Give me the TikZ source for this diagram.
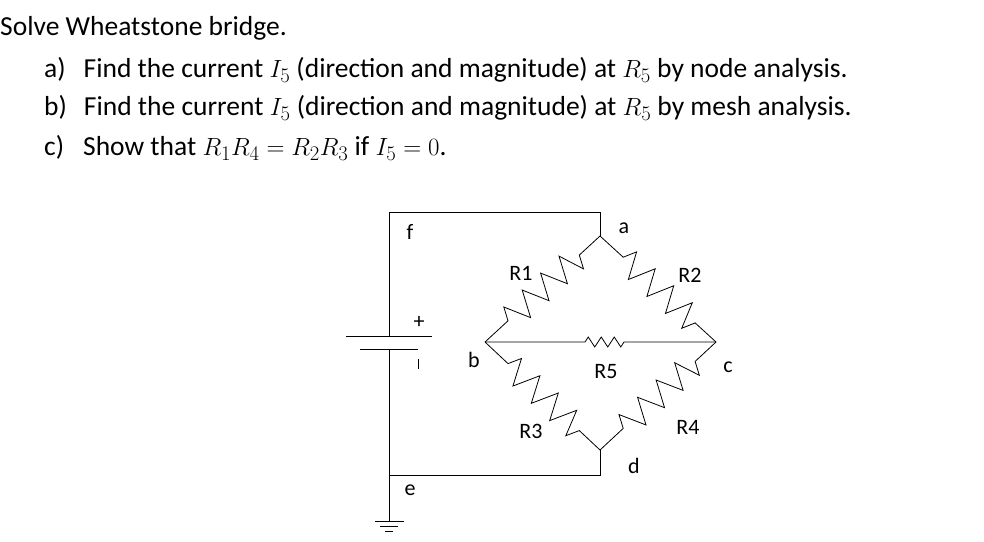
\documentclass[tikz,border=0pt]{standalone}
\usepackage{fontspec}
\setmainfont{Carlito}
\usetikzlibrary{calc,decorations.pathmorphing}
\newcommand\zzres[2]{\draw[res] (#1) -- ($(#1)!0.20!(#2)$)
 -- ($($(#1)!0.24!(#2)$)!13pt!90:(#2)$)
 -- ($($(#1)!0.32!(#2)$)!13pt!-90:(#2)$)
 -- ($($(#1)!0.40!(#2)$)!13pt!90:(#2)$)
 -- ($($(#1)!0.48!(#2)$)!13pt!-90:(#2)$)
 -- ($($(#1)!0.56!(#2)$)!13pt!90:(#2)$)
 -- ($($(#1)!0.64!(#2)$)!13pt!-90:(#2)$)
 -- ($($(#1)!0.72!(#2)$)!13pt!90:(#2)$)
 -- ($($(#1)!0.78!(#2)$)!13pt!-90:(#2)$)
 -- ($(#1)!0.82!(#2)$) -- (#2);}
\begin{document}
\begin{tikzpicture}[x=1pt,y=-1pt,
  wire/.style={line width=1pt},
  res/.style={line width=0.8pt,line join=miter},
  sres/.style={line width=0.8pt,decorate,decoration={zigzag,amplitude=5pt,segment length=13pt,pre length=100pt,post length=88pt}},
  lbl/.style={font=\fontsize{22}{26}\selectfont,inner sep=0pt},
  txt/.style={font=\fontsize{27.5}{31}\selectfont,anchor=west,inner sep=0pt}]
\useasboundingbox (0,0) rectangle (984,541);
\node[txt] (t0) at (0,28) {Solve Wheatstone bridge.};
\node[txt] (t1) at (44,70) {a)\hspace{18pt}Find the current $I_5$ (direction and magnitude) at $R_5$ by node analysis.};
\node[txt] (t2) at (44,108) {b)\hspace{17pt}Find the current $I_5$ (direction and magnitude) at $R_5$ by mesh analysis.};
\node[txt] (t3) at (44,148) {c)\hspace{19pt}Show that $R_1R_4=R_2R_3$ if $I_5=0$.};
\coordinate (a) at (600,236);
\coordinate (b) at (485,342);
\coordinate (c) at (716,342);
\coordinate (d) at (600,450);
\coordinate (tl) at (389,212);
\coordinate (tr) at (600,212);
\coordinate (bl) at (389,475);
\coordinate (br) at (600,475);
\coordinate (p1) at (389,336);
\coordinate (p2) at (389,349);
\coordinate (g) at (389,521);
\draw[wire] (p1) -- (tl) -- (tr) -- (a);
\draw[wire] (p2) -- (g);
\draw[wire] (bl) -- (br) -- (d);
\draw[wire] (346,336) -- (432,336);
\draw[wire] (360,349) -- (418,349);
\draw[wire] (375,521) -- (404,521);
\draw[wire] (380,526) -- (398,526);
\draw[wire] (385,531) -- (393,531);
\draw[wire] (418,359) -- (418,369);
\zzres{b}{a}
\zzres{a}{c}
\zzres{b}{d}
\zzres{d}{c}
\draw[sres] (b) -- (c);
\node[lbl] (lf) at (410,232) {f};
\node[lbl] (lp) at (419,322) {+};
\node[lbl] (lb) at (474,360) {b};
\node[lbl] (la) at (624,228) {a};
\node[lbl] (l1) at (521,273) {R1};
\node[lbl] (l2) at (690,275) {R2};
\node[lbl] (l5) at (606,372) {R5};
\node[lbl] (lc) at (728,367) {c};
\node[lbl] (l3) at (531,431) {R3};
\node[lbl] (l4) at (688,427) {R4};
\node[lbl] (ld) at (634,466) {d};
\node[lbl] (le) at (410,490) {e};
\end{tikzpicture}
\end{document}
